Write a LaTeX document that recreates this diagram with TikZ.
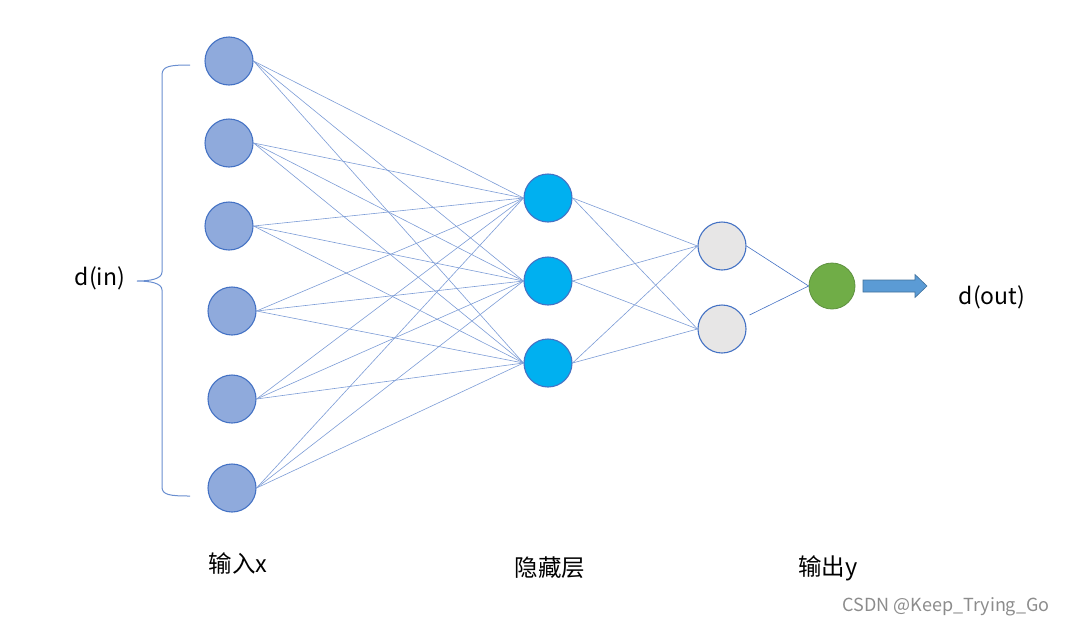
\documentclass[tikz,border=0pt]{standalone}
\usepackage{fontspec}
\setmainfont{Noto Sans CJK SC}
\usetikzlibrary{arrows.meta}
\definecolor{inblue}{HTML}{8FAADC}
\definecolor{edgeblue}{HTML}{4472C4}
\definecolor{cyanfill}{HTML}{00B0F0}
\definecolor{grayfill}{HTML}{E7E6E6}
\definecolor{greenfill}{HTML}{70AD47}
\definecolor{greenedge}{HTML}{5E9140}
\definecolor{arrowfill}{HTML}{5B9BD5}
\definecolor{arrowedge}{HTML}{41719C}
\tikzset{
  neuron/.style={circle, minimum size=48pt, inner sep=0pt, draw=edgeblue, line width=1.1pt},
  innode/.style={neuron, fill=inblue},
  hidnode/.style={neuron, fill=cyanfill},
  graynode/.style={neuron, fill=grayfill},
  outnode/.style={neuron, minimum size=46pt, fill=greenfill, draw=greenedge, line width=0.8pt},
  conn/.style={draw=edgeblue!70, line width=0.6pt},
  lbl/.style={font=\fontsize{23}{26}\selectfont, text=black, inner sep=0pt},
  cjklbl/.style={font=\fontsize{23.5}{26}\selectfont, text=black, inner sep=0pt},
  brace/.style={draw=edgeblue!80, line width=1pt},
  bigarrow/.style={fill=arrowfill, draw=arrowedge, line width=0.6pt}
}
\begin{document}
\begin{tikzpicture}[x=1pt,y=-1pt]
\useasboundingbox (0,0) rectangle (1067,627);
% input layer
\node[innode] (i1) at (229,61) {};
\node[innode] (i2) at (229,143) {};
\node[innode] (i3) at (229,226) {};
\node[innode] (i4) at (232,311) {};
\node[innode] (i5) at (232,399) {};
\node[innode] (i6) at (232,488) {};
% hidden layer
\node[hidnode] (h1) at (548,198) {};
\node[hidnode] (h2) at (548,281) {};
\node[hidnode] (h3) at (548,363) {};
% second layer
\node[graynode] (g1) at (722,246) {};
\node[graynode] (g2) at (722,329) {};
% output
\node[outnode] (o) at (832,286) {};
% connections
\foreach \i in {1,...,6}{
  \foreach \h in {1,2,3}{
    \draw[conn] (i\i.east) -- (h\h.west);
  }
}
\foreach \h in {1,2,3}{
  \foreach \g in {1,2}{
    \draw[conn] (h\h.east) -- (g\g.west);
  }
}
\draw[conn, draw=edgeblue] (g1.east) -- (o.west);
\draw[conn, draw=edgeblue] ([shift={(3,-14)}]g2.east) -- (o.west);
% output arrow
\coordinate (as) at (863,286);
\draw[bigarrow] (as) ++(0,-6) -- ++(52,0) -- ++(0,-5.5) -- ++(12,11.5)
  -- ++(-12,11.5) -- ++(0,-5.5) -- ++(-52,0) -- cycle;
% brace
\coordinate (bt) at (190,65);
\coordinate (bb) at (190,496);
\coordinate (bm) at (137,281);
\draw[brace] (bt) .. controls (170,65) and (162,66) .. (162,75)
  -- (162,272) .. controls (162,279) and (150,281) .. (bm)
  .. controls (150,281) and (162,283) .. (162,290)
  -- (162,487) .. controls (162,495) and (170,496) .. (bb);
% labels
\node[lbl] (din) at (100,278) {d(in)};
\node[lbl] (dout) at (992,297) {d(out)};
\node[cjklbl] (lin) at (238,564) {输入x};
\node[cjklbl] (lhid) at (550,568) {隐藏层};
\node[cjklbl] (lout) at (828,568) {输出y};
\node[font=\fontsize{18}{20}\selectfont, text=black!45, inner sep=0pt] (wm) at (946,607) {CSDN @Keep\_Trying\_Go};
\end{tikzpicture}
\end{document}
